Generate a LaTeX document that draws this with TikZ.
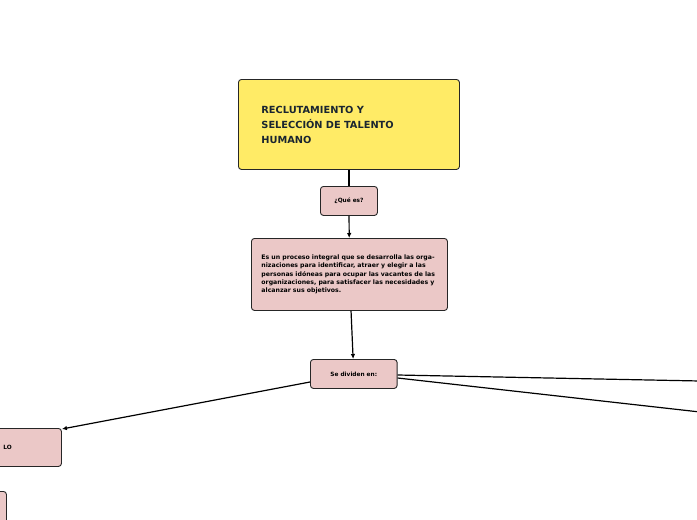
\documentclass[tikz,border=0pt]{standalone}
\usepackage{fontspec}
\setmainfont{DejaVu Sans}
\usetikzlibrary{arrows.meta}
\definecolor{pinkbox}{HTML}{EBC8C7}
\definecolor{yel}{HTML}{FFEB66}
\definecolor{ttl}{HTML}{1A2530}
\tikzset{
 box/.style={draw=black!85,line width=0.9pt,rounded corners=3pt,fill=pinkbox,inner sep=0pt,font=\bfseries\fontsize{5.8}{7}\selectfont},
 conn/.style={line width=1.2pt,-{Latex[length=5pt,width=4.5pt]}},
 plain/.style={line width=1.2pt}
}
\begin{document}
\begin{tikzpicture}[x=1pt,y=-1pt]
\useasboundingbox (0,0) rectangle (697,520);
\clip (0,0) rectangle (697,520);
\node[box,fill=yel,minimum width=221pt,minimum height=90pt,anchor=north west,text width=175pt,align=left,font=\bfseries\fontsize{9.8}{15}\selectfont,text=ttl] (t) at (238,79) {RECLUTAMIENTO Y\\SELECCIÓN DE TALENTO\\HUMANO};
\node[box,minimum width=57pt,minimum height=29pt,anchor=north west] (q) at (320,186) {¿Qué es?};
\node[box,minimum width=196pt,minimum height=72pt,anchor=north west,text width=176pt,align=left,font=\bfseries\fontsize{6.2}{8.4}\selectfont] (d) at (251,238) {\hyphenpenalty=10000 Es un proceso integral que se desarrolla las organizaciones para identificar, atraer y elegir a las personas idóneas para ocupar las vacantes de las organizaciones, para satisfacer las necesidades y alcanzar sus objetivos.};
\node[box,minimum width=57pt,minimum height=29pt,anchor=north west] (s) at (310,359) {\hspace*{20pt}Se dividen en:\hspace*{20pt}};
\node[box,minimum width=71pt,minimum height=38pt,anchor=north west,text width=65pt,align=left] (l) at (-10,428) {\hspace*{10pt}LO\\[8pt]};
\node[box,minimum width=16pt,minimum height=40pt,anchor=north west] (b) at (-10,491) {};
\coordinate (r1) at (700,381);
\coordinate (r2) at (700,412);
\draw[plain] (t) -- (q);
\draw[conn] (q) -- (d);
\draw[conn] (d) -- (s);
\draw[conn] (s.west|-0,382) -- (l.north east|-0,429);
\draw[plain] (s.east|-0,375) -- (r1);
\draw[plain] (s.east|-0,378) -- (r2);
\end{tikzpicture}
\end{document}
